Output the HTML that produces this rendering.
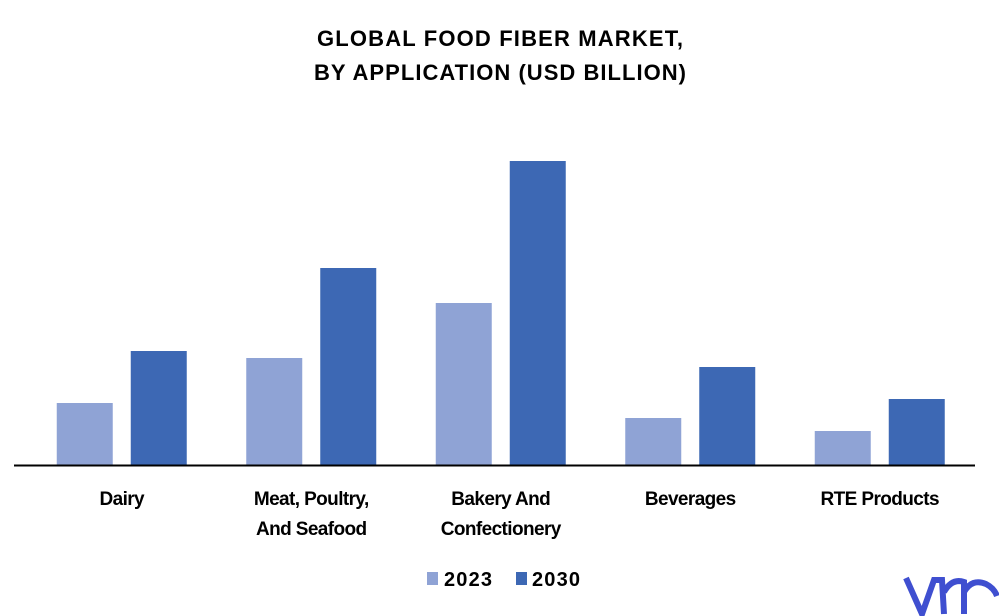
<!DOCTYPE html>
<html><head><meta charset="utf-8"><style>
body{margin:0;background:#fff;}
svg{display:block;font-family:"Liberation Sans",sans-serif;}
</style></head><body>
<svg width="999" height="616" viewBox="0 0 999 616">
<text x="500" y="46" text-anchor="middle" font-size="22" font-weight="bold" fill="#000" textLength="366">GLOBAL FOOD FIBER MARKET,</text>
<text x="500" y="80" text-anchor="middle" font-size="22" font-weight="bold" fill="#000" textLength="372">BY APPLICATION (USD BILLION)</text>
<g id="bars"></g>
<line x1="14" y1="465.5" x2="975" y2="465.5" stroke="#000" stroke-width="2"/>
<g id="labels"></g>
<rect x="427" y="572" width="11" height="13" fill="#8fa3d5"/>
<text x="444" y="586" font-size="20" font-weight="bold" textLength="48">2023</text>
<rect x="516" y="572" width="11" height="13" fill="#3d68b4"/>
<text x="532" y="586" font-size="20" font-weight="bold" textLength="48">2030</text>
<path d="M906 578 L922 614 L934 580 L942 580 L944 614 M944 592 Q952 578 964 582 L964 614 M964 592 Q972 578 986 584 Q994 588 997 596" fill="none" stroke="#3f4fd0" stroke-width="6"/>
</svg>
<script>
const categories=["Dairy","Meat, Poultry,|And Seafood","Bakery And|Confectionery","Beverages","RTE Products"];
const values2023=[0.62,1.07,1.62,0.47,0.34];
const values2030=[1.14,1.97,3.04,0.98,0.66];
const NS="http://www.w3.org/2000/svg";
const plotLeft=27,groupW=189.5,baseY=465,pxPerUnit=100,barW=56;
const xCenter=i=>plotLeft+groupW*(i+0.5);
const yScale=v=>baseY-v*pxPerUnit;
const bars=document.getElementById('bars'),labels=document.getElementById('labels');
function bar(i,v,off,color,name){
  const r=document.createElementNS(NS,'rect');
  r.setAttribute('x',xCenter(i)+off);r.setAttribute('y',yScale(v));
  r.setAttribute('width',barW);r.setAttribute('height',baseY-yScale(v));r.setAttribute('fill',color);
  
  
  bars.appendChild(r);
}
categories.forEach((c,i)=>{
  bar(i,values2023[i],-65,'#8fa3d5','bar-2023-'+i);
  bar(i,values2030[i],9,'#3d68b4','bar-2030-'+i);
  c.split('|').forEach((ln,j)=>{
    const t=document.createElementNS(NS,'text');
    t.setAttribute('x',xCenter(i));t.setAttribute('y',505+j*30);
    t.setAttribute('text-anchor','middle');t.setAttribute('font-size','19');t.setAttribute('font-weight','bold');
    t.setAttribute('letter-spacing','-0.6');
    t.textContent=ln;
    
    
    labels.appendChild(t);
  });
});
</script>
</body></html>
